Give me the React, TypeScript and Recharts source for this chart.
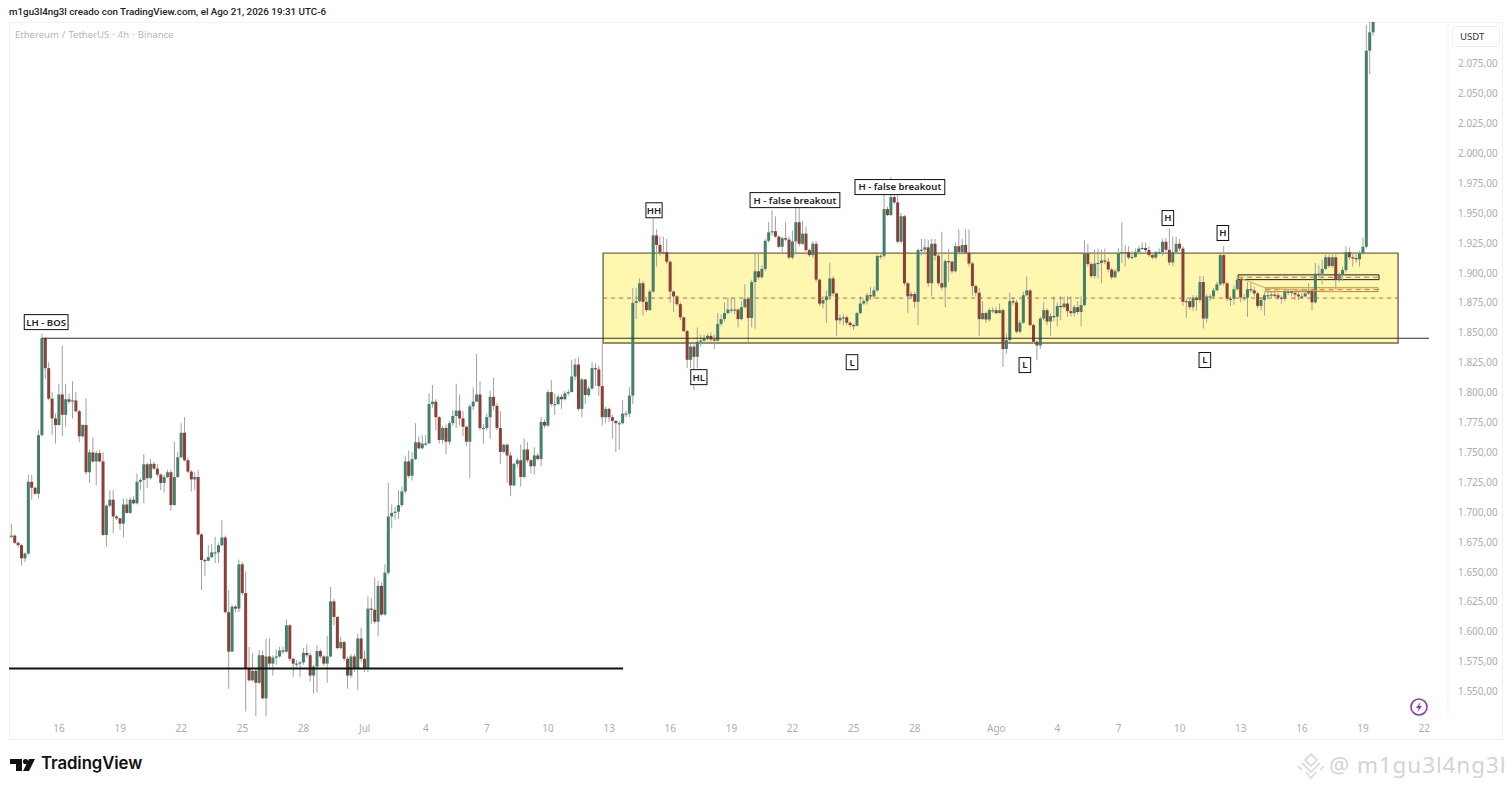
import React from "react";
import { ComposedChart, Bar, XAxis, YAxis, ReferenceArea, ReferenceLine, ReferenceDot } from "recharts";

const firstOpen = 1680;
const closesA = [1680,1674,1672,1661,1665,1725,1720,1715,1764,1845,1820,1794.5,1778,1772.5,1798,1781,1794,1792,1793,1784,1763,1772.5,1733,1749.6,1742,1749,1742,1680.5,1705,1710,1696,1694.5,1690,1706,1699,1710,1707,1725,1726.5,1739.6,1728,1740,1736,1731,1724,1729,1733,1705.6,1729,1745.5,1766,1743,1733.5,1727,1729,1681,1659.6,1659,1662,1666,1666,1672,1678.5,1616,1583,1620.6,1619,1656,1632,1569,1559,1567,1557,1580,1544,1579,1573,1578,1579,1584,1583,1605,1577,1573,1573,1574,1582,1580,1563,1570.5,1583.5,1579,1573,1579,1625,1612,1586];
const highsA = [1690,1681,1675,1673,1666,1731,1731,1721,1768,1849,1846,1825,1800,1782,1807,1839,1807,1799,1809,1800,1785,1773,1795,1752,1762,1751,1752,1750,1706,1718,1718,1697,1695,1711,1711,1712,1713,1732,1728,1748,1741,1744,1742,1740,1732,1731,1735,1735,1758.5,1750,1774,1779,1745,1735,1733,1735,1682,1661,1672,1673,1679,1674,1693,1680,1634.5,1622,1622,1660,1658,1650,1587,1582,1569,1584,1584,1594,1594,1580,1585,1587,1587,1610,1606,1578,1576,1575,1586,1589,1582,1572,1588.5,1585,1580,1596,1637,1627,1613];
const lowsA = [1678,1673,1670,1655,1658,1664,1710,1714,1711,1763,1811,1793,1764,1757,1772,1763,1771,1790,1778,1783,1758,1762,1731,1724,1741,1722,1741,1680,1671,1704,1682,1693,1685,1678.5,1698,1698,1706,1706,1718,1707,1720,1727,1735,1729,1718,1716,1728,1701,1705,1728,1745,1742,1732,1717,1718,1680,1634.5,1646,1659,1661,1657,1657,1671,1615,1552,1583,1616,1616,1630,1533,1558,1558,1529,1556,1543,1529,1570,1563,1572,1578,1581,1582,1575,1562,1570,1562,1572,1578,1558,1548,1549,1577,1571,1557,1578,1605,1585];

const closesB = [1591,1577,1563,1579,1569,1594,1577,1569,1619,1618,1608,1638,1614,1649,1696,1699,1700,1705.5,1717,1742,1730,1744,1758,1753,1757,1757,1790,1792,1779,1760,1770,1758.5,1774,1780,1784.5,1778,1771,1758.5,1788,1792,1798,1770,1770,1779,1796,1788.5,1770,1750,1756,1747,1722,1740,1743,1729,1752,1743,1738,1747,1744,1775,1772,1800,1790,1790,1796,1794,1799,1800,1813,1823,1786,1810.5,1797.5,1803,1820,1819,1805,1779,1786,1779,1776,1774,1774,1782,1782,1797,1874.5];
const highsB = [1595.5,1592,1579,1581,1581,1598,1603,1584,1629,1628,1645,1642,1641,1656,1724,1706,1704,1718,1721,1747,1751,1750,1774,1763,1764,1764,1799,1806,1794,1780,1772,1773,1776,1785,1807,1798,1784,1772,1790,1804,1832,1809,1773,1782,1801,1812,1791,1784,1757,1757,1750,1741,1745,1756,1761,1758,1744,1754,1749,1779,1777,1802,1810,1799,1798,1798,1801,1802,1827,1828,1829,1812,1811,1805,1825,1824,1822,1843,1788,1787,1781,1776,1776,1793,1784,1804,1887];
const lowsB = [1585,1575,1552,1561,1566,1551,1574,1566,1566,1606,1606,1596,1613,1613,1647,1686,1693,1694,1704,1715,1728,1726,1743,1752,1752,1755,1757,1787,1768,1757,1757,1748,1756,1772,1770,1772,1763,1755,1728,1785,1792,1768,1757,1768,1761,1785,1768,1740,1749,1724,1713,1721,1737,1721,1728,1741,1732,1731,1743,1738,1770,1771,1788,1781,1789,1786,1793,1797,1800,1810,1784,1779,1790,1796,1802,1805,1797,1772,1774,1775,1761,1750,1752,1773,1779,1779,1790];

const closesC = [1876,1891,1875.5,1868.5,1884,1931,1923,1916.5,1917,1909,1884,1880,1873.5,1862.5,1851,1827,1838,1829.5,1842,1843,1845,1847,1844,1843,1857,1861,1866,1869,1869,1869,1861,1871,1878,1862,1892,1901,1896,1903,1926.5,1933.5,1934.5,1930,1921.5,1928.7,1927.5,1912.5,1926,1942,1924,1932.5,1918.7,1914.5,1924,1894,1874,1877,1880,1895,1882.5,1860,1862,1862.5,1858,1856,1855.5,1866,1874,1876,1881,1880,1885,1913.7,1914,1953,1948,1963,1958.6,1925.7,1947,1891,1880,1882,1875.5,1918.7,1919,1921,1891,1924,1914,1891];
const highsC = [1887,1895,1893,1878,1886,1945,1936,1930,1930,1928,1910,1885,1881,1875,1863,1852,1840,1840,1854,1848,1848,1849,1850,1848,1866,1865,1875,1879,1879,1878,1870,1876,1890,1879,1894,1917,1916,1906,1928,1942,1952,1947,1931,1930,1942,1930,1935,1954,1955,1943,1938,1920,1926,1926,1895,1880,1885,1908,1897,1883,1865,1865,1864,1859,1857,1867,1880,1878,1883,1888,1888,1915,1917,1965,1955,1980,1972,1965,1950,1948,1892,1884,1884,1920,1928,1928,1927,1928,1928,1916];
const lowsC = [1861,1875,1864,1867,1868,1883,1905,1914,1915,1907,1875,1867,1872,1860,1850,1820,1820,1802,1820,1838,1841,1843,1842,1836,1842,1855,1859,1865,1866,1865,1854,1860,1870,1841,1854,1853,1894,1895,1901,1925,1931,1929,1920,1915,1926,1911,1911,1915,1922,1923,1917,1913,1912,1892,1872,1870,1858,1877,1880,1847,1857,1856,1856,1854,1852,1855,1865,1873,1873,1877,1878,1884,1911,1912,1947,1947,1957,1924,1924,1889,1866,1878,1870,1856,1914,1915,1888,1880,1910,1889];

const closesD = [1887.5,1909.5,1909,1901,1922,1917,1923,1916.5,1907.5,1888.6,1883,1861,1866,1860.7,1868.5,1868.5,1866,1868.5,1836,1843.5,1876,1875,1850.5,1858,1881,1885,1856,1842,1839,1861.5,1868.5,1859,1863.5,1863,1872,1871,1874,1867.7,1866,1871,1867,1872.7,1916,1907,1897,1907.5,1908,1910,1909,1902.5,1896,1901,1916,1917,1917,1912.5,1913,1917,1920,1920.5,1918.7,1914.5,1912.5,1917,1917,1925.7,1919,1908.4,1917,1924,1920,1875.5,1876,1871,1879,1877,1892,1861.5,1880,1880,1885,1890,1914.5,1891,1878];
const highsD = [1934,1911,1920,1910,1925,1936,1928,1936,1936,1909,1890,1887,1876,1867,1870,1871,1871,1874,1870,1849,1883,1879,1877,1860,1884,1896.6,1886,1857,1843,1863,1875,1870,1866,1880,1875,1880,1880,1880,1880,1873,1876,1880,1927,1924,1909,1919,1920,1919,1920,1912,1904,1903,1920,1942,1923,1922,1918,1920,1922,1925,1925,1922,1916,1918,1920,1928,1929,1937,1930,1930,1928,1922,1878,1878,1881,1881,1897,1897,1882,1882,1887,1892,1916,1922,1892];
const lowsD = [1885,1871,1892,1899,1900,1915,1915,1915,1905,1880,1880,1847,1860,1858,1859,1866,1865,1866,1821,1832,1842,1873,1849,1849,1857,1880,1855,1840,1827,1836,1860,1856,1847,1859,1855,1860,1870,1863,1863,1863,1865,1855,1872,1905,1895,1895,1895,1891,1907,1900,1894,1895,1900,1908,1905,1911,1911,1912,1915,1919,1917,1913,1911,1911,1915,1914,1917,1906,1905,1915,1918,1872,1862,1869,1868,1868,1875,1853,1858,1876,1878,1885,1889,1889,1876];

const closesE = [1878,1886,1894,1879,1879,1886,1885,1882.5,1872,1877,1881,1881,1881.5,1881,1879,1878,1884,1884,1883,1881.5,1880,1880,1882.5,1885,1875,1899,1899,1903,1912.7,1905.4,1912.7,1893.7,1898,1902,1917,1912.7,1912,1911,1916,1921.5,2085.4,2100.8,2115];
const highsE = [1880,1889,1896,1895,1882,1892,1892,1888,1884,1879,1884,1885,1884,1885,1883,1881,1886,1886,1885,1884,1884,1883,1884,1891,1886,1908,1906,1911,1915,1915,1916,1915,1900,1905,1922,1921,1917,1917,1918,1929,2107,2115,2125];
const lowsE = [1872,1873,1885,1875,1876,1863,1883,1880,1870,1868,1864,1878,1878,1879,1877,1874,1876,1881,1880,1877,1877,1878,1879,1881,1868,1874,1896,1890,1902,1904,1904,1886,1892,1893,1900,1911,1905,1908,1905,1915,1920,2066,2098];

const closes = [...closesA, ...closesB, ...closesC, ...closesD, ...closesE];
const highs = [...highsA, ...highsB, ...highsC, ...highsD, ...highsE];
const lows = [...lowsA, ...lowsB, ...lowsC, ...lowsD, ...lowsE];

const priceTicks = [1550,1575,1600,1625,1650,1675,1700,1725,1750,1775,1800,1825,1850,1875,1900,1925,1950,1975,2000,2025,2050,2075];
const timeTickIndex = [14,32,50,68,86,104,122,140,158,176,194,212,230,248,266,290,308,326,344,362,380,398,416];
const timeTickLabels = ["16","19","22","25","28","Jul","4","7","10","13","16","19","22","25","28","Ago","4","7","10","13","16","19","22"];

const rangeBox = { i1: 174.2, i2: 408.3, top: 1916.2, bottom: 1841, mid: 1878.6 };
const lhLine = { i1: 9, i2: 417.4, price: 1845 };
const supportLine = { i1: -0.74, i2: 180.1, price: 1569 };
const blackZone = { i1: 361.2, i2: 402.7, top: 1898, bottom: 1894 };
const orangeZone = { i1: 369.3, i2: 402.4, top: 1887.2, bottom: 1884 };
const orangePath = [[361.2, 1896],[369.3, 1887],[380, 1885],[392, 1884]];
const labels = [
  { t: "LH - BOS", i: 10.2, p: 1858.5 },
  { t: "HH", i: 189.2, p: 1952 },
  { t: "H - false breakout", i: 230.7, p: 1960.5 },
  { t: "H - false breakout", i: 261.6, p: 1971.4 },
  { t: "HL", i: 202.4, p: 1812.5 },
  { t: "L", i: 247.5, p: 1825 },
  { t: "L", i: 298.4, p: 1822.6 },
  { t: "L", i: 351.4, p: 1826.8 },
  { t: "H", i: 340.5, p: 1945.5 },
  { t: "H", i: 356.7, p: 1933 },
];

const table = closes.map((c, i) => {
  const o = i === 0 ? firstOpen : closes[i - 1];
  return { i, open: o, close: c, high: Math.max(highs[i], o, c), low: Math.min(lows[i], o, c) };
});

const UP = "#437f6b";
const DOWN = "#8a3f37";
const WICK = "#a0a0a0";

const Candle = (props: any) => {
  const { x, y, width, height, payload } = props;
  const span = payload.high - payload.low || 1;
  const yOf = (p: number) => y + ((payload.high - p) / span) * height;
  const top = yOf(Math.max(payload.open, payload.close));
  const bot = yOf(Math.min(payload.open, payload.close));
  const cx = x + width / 2;
  const up = payload.close >= payload.open;
  return (
    <g>
      <line x1={cx} x2={cx} y1={y} y2={y + height} stroke={WICK} strokeWidth={1} />
      <rect x={cx - 1.5} y={top} width={3} height={Math.max(bot - top, 1.2)} fill={up ? UP : DOWN} />
    </g>
  );
};

const TagShape = (t: string) => (props: any) => {
  const w = t.length * 4.6 + 7;
  const h = 15;
  return (
    <g>
      <rect x={props.cx - w / 2} y={props.cy - h / 2} width={w} height={h} fill="#fff" stroke="#111" strokeWidth={1} />
      <text x={props.cx} y={props.cy + 3.4} textAnchor="middle" fontFamily="'Noto Sans', sans-serif" fontSize={9.6} fontWeight={600} fill="#222">{t}</text>
    </g>
  );
};

const abs = (left: number, top: number): React.CSSProperties => ({ position: "absolute", left, top, whiteSpace: "nowrap" });

export default function App() {
  return (
    <div style={{ position: "absolute", left: 0, top: 0, width: 1512, height: 790, background: "#fff", overflow: "hidden", fontFamily: "'Noto Sans', sans-serif" }}>
      <div style={{ position: "absolute", left: 9, top: 22, width: 1494, height: 718, border: "1px solid #f1f1f1", boxSizing: "border-box" }} />
      <ComposedChart width={1512} height={790} data={table} margin={{ left: 9, right: 9, top: 22, bottom: 50 }} style={{ position: "absolute", left: 0, top: 0 }}>
        <XAxis dataKey="i" type="number" domain={[-0.74, 423]} allowDataOverflow ticks={timeTickIndex} interval={0} height={24} axisLine={false} tickLine={false} tickMargin={3}
          tickFormatter={(v: number) => timeTickLabels[timeTickIndex.indexOf(v)]} tick={{ fontSize: 10, fill: "#adadad" }} />
        <YAxis orientation="right" type="number" domain={[1529.2, 2109.4]} allowDataOverflow ticks={priceTicks} interval={0} width={55} axisLine={{ stroke: "#f1f1f1" }} tickLine={false} tickMargin={4}
          tickFormatter={(v: number) => { const s = String(v); return s.slice(0, 1) + "." + s.slice(1) + ",00"; }} tick={{ fontSize: 10, fill: "#adadad", dy: 0.5 }} />
        <ReferenceArea x1={rangeBox.i1} x2={rangeBox.i2} y1={rangeBox.bottom} y2={rangeBox.top} fill="#fff6b0" fillOpacity={1} stroke="#6f6a45" strokeWidth={1.4} />
        <ReferenceLine segment={[{ x: rangeBox.i1, y: rangeBox.mid }, { x: rangeBox.i2, y: rangeBox.mid }]} stroke="#a8703c" strokeDasharray="4 4" strokeWidth={1} />
        <ReferenceArea x1={blackZone.i1} x2={blackZone.i2} y1={blackZone.bottom} y2={blackZone.top} fill="#fff6b0" fillOpacity={0.4} stroke="#1c1c1c" strokeWidth={1} />
        <ReferenceArea x1={orangeZone.i1} x2={orangeZone.i2} y1={orangeZone.bottom} y2={orangeZone.top} fill="#fff6b0" fillOpacity={0.4} stroke="#b08a3a" strokeWidth={1} />
        <Bar dataKey={(d: any) => [d.low, d.high]} barSize={4} shape={<Candle />} isAnimationActive={false} />
        <ReferenceLine segment={[{ x: blackZone.i1, y: (blackZone.top + blackZone.bottom) / 2 }, { x: blackZone.i2, y: (blackZone.top + blackZone.bottom) / 2 }]} stroke="#d0703a" strokeDasharray="5 4" strokeWidth={1} />
        <ReferenceLine segment={[{ x: orangeZone.i1, y: (orangeZone.top + orangeZone.bottom) / 2 }, { x: orangeZone.i2, y: (orangeZone.top + orangeZone.bottom) / 2 }]} stroke="#d0703a" strokeDasharray="5 4" strokeWidth={1} />
        {orangePath.slice(1).map((pt, k) => (
          <ReferenceLine key={k} segment={[{ x: orangePath[k][0], y: orangePath[k][1] }, { x: pt[0], y: pt[1] }]} stroke="#e0a060" strokeWidth={1} />
        ))}
        <ReferenceLine segment={[{ x: lhLine.i1, y: lhLine.price }, { x: lhLine.i2, y: lhLine.price }]} stroke="#333" strokeWidth={1} />
        <ReferenceLine segment={[{ x: supportLine.i1, y: supportLine.price }, { x: supportLine.i2, y: supportLine.price }]} stroke="#111" strokeWidth={2} />
        {labels.map((l, k) => (
          <ReferenceDot key={k} x={l.i} y={l.p} r={1} shape={TagShape(l.t)} ifOverflow="visible" />
        ))}
      </ComposedChart>
      <div style={{ ...abs(9, 6), fontSize: 9.8, color: "#222", fontWeight: 500, fontFamily: "Roboto, sans-serif" }}>m1gu3l4ng3l creado con TradingView.com, el Ago 21, 2026 19:31 UTC-6</div>
      <div style={{ ...abs(15, 28), fontSize: 9.5, color: "#b5b5b5", wordSpacing: 0.6 }}>Ethereum / TetherUS · 4h · Binance</div>
      <div style={{ ...abs(1452, 26), width: 48, height: 21, boxSizing: "border-box", border: "1px solid #eee", borderRadius: 3, fontSize: 9.6, color: "#333", background: "#fff", textAlign: "left", paddingLeft: 7, lineHeight: "19px" }}>USDT</div>
      <svg style={{ position: "absolute", left: 1409, top: 697 }} width={20} height={20}>
        <circle cx={10} cy={10} r={8} fill="none" stroke="#8e3aa5" strokeWidth={1.6} />
        <path d="M11.5 5 L7 11 L9.7 11 L8.5 15 L13 9 L10.3 9 Z" fill="#8e3aa5" />
      </svg>
      <svg style={{ position: "absolute", left: 10, top: 758 }} width={26} height={15}>
        <path d="M0 1 H12 V13 H6 V6 H0 Z" fill="#111" />
        <circle cx={15.5} cy={3.6} r={2.6} fill="#111" />
        <path d="M13 13 L19 1 H25 L19 13 Z" fill="#111" />
      </svg>
      <div style={{ ...abs(41, 753), fontSize: 16.8, fontWeight: 600, color: "#111", fontFamily: "Inter, sans-serif", letterSpacing: -0.1 }}>TradingView</div>
      <svg style={{ position: "absolute", left: 1296, top: 751 }} width={30} height={30}>
        <path d="M15 3 L21 9 L15 15 L9 9 Z M6 12 L10 16 L15 21 L20 16 L24 12 M2 15 L6 19 M28 15 L24 19 M10 21 L15 27 L20 21" fill="none" stroke="#dcdcdc" strokeWidth={1.8} />
      </svg>
      <div style={{ ...abs(1329, 749), fontSize: 22.5, color: "#d4d4d4", fontFamily: "'Noto Sans', sans-serif", letterSpacing: 0.9 }}>@ m1gu3l4ng3l</div>
    </div>
  );
}
